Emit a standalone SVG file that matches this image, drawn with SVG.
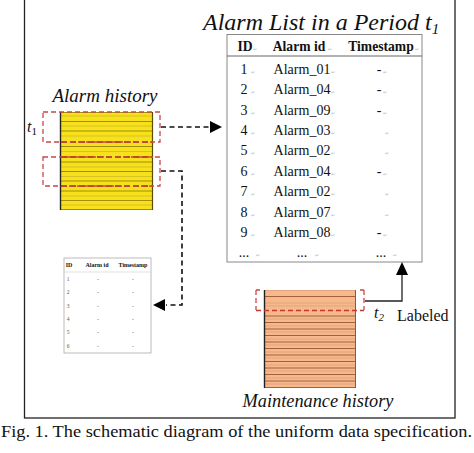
<svg xmlns="http://www.w3.org/2000/svg" width="474" height="453" viewBox="0 0 474 453">
<defs>
<style>
.tr{font-family:"Liberation Serif","Times New Roman",serif;fill:#111}
.it{font-style:italic}
.cell{font-size:14px;text-anchor:middle}
.hd{font-size:13.6px;font-weight:bold;text-anchor:middle}
.pm{font-family:"DejaVu Sans",sans-serif;font-size:5px;fill:#bbb}
.sm{font-size:5.5px;text-anchor:middle;fill:#555}
.smh{font-size:6px;font-weight:bold;text-anchor:middle}
.rd{fill:none;stroke:#c8474a;stroke-width:1.3;stroke-dasharray:5 3}
.rdl{stroke:#b5501e;stroke-width:2;stroke-dasharray:6 3}
.ys{stroke:#7a6a00;stroke-width:0.7}
.ys2{stroke:#b8a620;stroke-width:0.5}
.os{stroke:#8a4a28;stroke-width:0.8}
.os2{stroke:#c89070;stroke-width:0.5}
.dash{fill:none;stroke:#111;stroke-width:1.6;stroke-dasharray:5 3.5}
.sol{fill:none;stroke:#222;stroke-width:1.3}
</style>
</defs>
<rect x="0" y="0" width="474" height="453" fill="#fff"/>
<rect id="frame" x="24.5" y="-2" width="430.5" height="420" fill="none" stroke="#222" stroke-width="1.3"/>

<g id="title">
<text class="tr it" x="203" y="30" font-size="24">Alarm List in a Period t<tspan font-size="15" dy="4">1</tspan></text>
</g>

<g id="alarm-list-table">
<rect x="227" y="34.5" width="195" height="227.5" fill="#fff" stroke="#888" stroke-width="1"/>
<line x1="227" y1="56" x2="422" y2="56" stroke="#666" stroke-width="1"/>
<text class="tr hd" x="245" y="51">ID</text>
<text class="tr hd" x="299" y="51">Alarm id</text>
<text class="tr hd" x="381" y="51">Timestamp</text>
<text class="pm" x="253" y="51">↵</text><text class="pm" x="328" y="51">↵</text><text class="pm" x="415" y="51">↵</text>
<g class="tr cell">
<text x="244" y="74">1</text><text x="302" y="74">Alarm_01</text><text x="379" y="74">-</text>
<text x="244" y="94">2</text><text x="302" y="94">Alarm_04</text><text x="379" y="94">-</text>
<text x="244" y="115">3</text><text x="302" y="115">Alarm_09</text><text x="379" y="115">-</text>
<text x="244" y="135">4</text><text x="302" y="135">Alarm_03</text>
<text x="244" y="155">5</text><text x="302" y="155">Alarm_02</text>
<text x="244" y="176">6</text><text x="302" y="176">Alarm_04</text><text x="379" y="176">-</text>
<text x="244" y="196">7</text><text x="302" y="196">Alarm_02</text>
<text x="244" y="217">8</text><text x="302" y="217">Alarm_07</text>
<text x="244" y="237">9</text><text x="302" y="237">Alarm_08</text><text x="379" y="237">-</text>
<text x="244" y="257">...</text><text x="302" y="257">...</text><text x="381" y="257">...</text>
</g>
<g class="pm">
<text x="251" y="74">↵</text><text x="331" y="74">↵</text><text x="383" y="74">↵</text>
<text x="251" y="94">↵</text><text x="331" y="94">↵</text><text x="383" y="94">↵</text>
<text x="251" y="115">↵</text><text x="331" y="115">↵</text><text x="383" y="115">↵</text>
<text x="251" y="135">↵</text><text x="331" y="135">↵</text><text x="385" y="135">↵</text>
<text x="251" y="155">↵</text><text x="331" y="155">↵</text><text x="385" y="155">↵</text>
<text x="251" y="176">↵</text><text x="331" y="176">↵</text><text x="383" y="176">↵</text>
<text x="251" y="196">↵</text><text x="331" y="196">↵</text><text x="385" y="196">↵</text>
<text x="251" y="217">↵</text><text x="331" y="217">↵</text><text x="385" y="217">↵</text>
<text x="251" y="237">↵</text><text x="331" y="237">↵</text><text x="383" y="237">↵</text>
<text x="256" y="257">↵</text><text x="315" y="257">↵</text><text x="393" y="257">↵</text>
</g>
</g>

<g id="alarm-history">
<text class="tr it" x="105" y="102" font-size="19" text-anchor="middle">Alarm history</text>
<rect x="60" y="112" width="93" height="98" fill="#f7e01c"/>
<g class="ys">
<line x1="60" y1="112.5" x2="153" y2="112.5"/><line x1="60" y1="121.5" x2="153" y2="121.5"/><line x1="60" y1="131" x2="153" y2="131"/>
<line x1="60" y1="146.5" x2="153" y2="146.5"/><line x1="60" y1="162" x2="153" y2="162"/><line x1="60" y1="171.5" x2="153" y2="171.5"/>
<line x1="60" y1="181" x2="153" y2="181"/><line x1="60" y1="191" x2="153" y2="191"/><line x1="60" y1="200.5" x2="153" y2="200.5"/><line x1="60" y1="209.5" x2="153" y2="209.5"/>
</g>
<g class="ys2">
<line x1="60" y1="116" x2="153" y2="116"/><line x1="60" y1="126" x2="153" y2="126"/><line x1="60" y1="136" x2="153" y2="136"/>
<line x1="60" y1="151.5" x2="153" y2="151.5"/><line x1="60" y1="167" x2="153" y2="167"/><line x1="60" y1="176.5" x2="153" y2="176.5"/>
<line x1="60" y1="196" x2="153" y2="196"/><line x1="60" y1="205" x2="153" y2="205"/>
</g>
<line x1="60.5" y1="112" x2="60.5" y2="210" stroke="#222" stroke-width="1.4"/>
<line x1="152.5" y1="112" x2="152.5" y2="210" stroke="#5a4c00" stroke-width="1.2"/>
<line class="rdl" x1="61" y1="142" x2="153" y2="142"/>
<line class="rdl" x1="61" y1="157" x2="153" y2="157"/>
<line class="rdl" x1="61" y1="186" x2="153" y2="186"/>
<rect class="rd" x="43" y="112" width="117" height="30"/>
<rect class="rd" x="43" y="157" width="117" height="29"/>
<text class="tr it" x="27" y="132" font-size="16">t<tspan font-style="normal" font-size="11" dy="3">1</tspan></text>
</g>

<g id="small-table">
<rect x="64" y="258" width="87" height="95" fill="#fff" stroke="#aaa" stroke-width="0.8"/>
<line x1="64" y1="272" x2="151" y2="272" stroke="#ccc" stroke-width="0.6"/>
<g class="tr">
<text class="smh" x="69" y="267">ID</text><text class="smh" x="97" y="267">Alarm id</text><text class="smh" x="133" y="267">Timestamp</text>
<text class="sm" x="68" y="281">1</text><text class="sm" x="98" y="281">-</text><text class="sm" x="133" y="281">-</text>
<text class="sm" x="68" y="294">2</text><text class="sm" x="98" y="294">-</text><text class="sm" x="133" y="294">-</text>
<text class="sm" x="68" y="308">3</text><text class="sm" x="98" y="308">-</text><text class="sm" x="133" y="308">-</text>
<text class="sm" x="68" y="321">4</text><text class="sm" x="98" y="321">-</text><text class="sm" x="133" y="321">-</text>
<text class="sm" x="68" y="334">5</text><text class="sm" x="98" y="334">-</text><text class="sm" x="133" y="334">-</text>
<text class="sm" x="68" y="348">6</text><text class="sm" x="98" y="348">-</text><text class="sm" x="133" y="348">-</text>
</g>
</g>

<g id="maintenance-history">
<rect x="264" y="290" width="92" height="98" fill="#f7b98c"/>
<g class="os">
<line x1="264" y1="296.5" x2="356" y2="296.5"/><line x1="264" y1="316" x2="356" y2="316"/><line x1="264" y1="322.5" x2="356" y2="322.5"/>
<line x1="264" y1="329" x2="356" y2="329"/><line x1="264" y1="335.5" x2="356" y2="335.5"/><line x1="264" y1="342" x2="356" y2="342"/>
<line x1="264" y1="348.5" x2="356" y2="348.5"/><line x1="264" y1="355" x2="356" y2="355"/><line x1="264" y1="361.5" x2="356" y2="361.5"/>
<line x1="264" y1="368" x2="356" y2="368"/><line x1="264" y1="374.5" x2="356" y2="374.5"/><line x1="264" y1="381" x2="356" y2="381"/>
<line x1="264" y1="387.5" x2="356" y2="387.5"/>
</g>
<g class="os2">
<line x1="264" y1="290.5" x2="356" y2="290.5"/><line x1="264" y1="303" x2="356" y2="303"/><line x1="264" y1="306" x2="356" y2="306"/>
<line x1="264" y1="319" x2="356" y2="319"/><line x1="264" y1="326" x2="356" y2="326"/><line x1="264" y1="332" x2="356" y2="332"/>
<line x1="264" y1="339" x2="356" y2="339"/><line x1="264" y1="345" x2="356" y2="345"/><line x1="264" y1="352" x2="356" y2="352"/>
<line x1="264" y1="358" x2="356" y2="358"/><line x1="264" y1="365" x2="356" y2="365"/><line x1="264" y1="371" x2="356" y2="371"/>
<line x1="264" y1="378" x2="356" y2="378"/><line x1="264" y1="384" x2="356" y2="384"/>
</g>
<line x1="264.5" y1="290" x2="264.5" y2="388" stroke="#222" stroke-width="1.4"/>
<line x1="355.5" y1="290" x2="355.5" y2="388" stroke="#8a5a40" stroke-width="1"/>
<line x1="256" y1="310.5" x2="364" y2="310.5" stroke="#c0392b" stroke-width="1.3" stroke-dasharray="5 3"/>
<path class="rd" d="M256,290 H260 M256,290 V310 M364,290 V310 M360,290 H364"/>
<text class="tr it" x="374" y="318" font-size="16">t<tspan font-size="11" dy="3">2</tspan></text>
<text class="tr" x="397" y="321" font-size="16">Labeled</text>
<text class="tr it" x="318" y="407" font-size="18.3" text-anchor="middle">Maintenance history</text>
</g>

<g id="connectors">
<path class="dash" d="M161,127 H210"/>
<path d="M210,121 L222,127 L210,133 z" fill="#000"/>
<path class="dash" d="M161,171 H182 V305 H166"/>
<path d="M165,299 L153,305 L165,311 z" fill="#000"/>
<path class="sol" d="M365,301 H402 V274"/>
<path d="M396,275 L402,262 L408,275 z" fill="#000"/>
</g>

<text class="tr" x="1" y="437" font-size="17" textLength="471" lengthAdjust="spacingAndGlyphs">Fig. 1. The schematic diagram of the uniform data specification.</text>
</svg>
